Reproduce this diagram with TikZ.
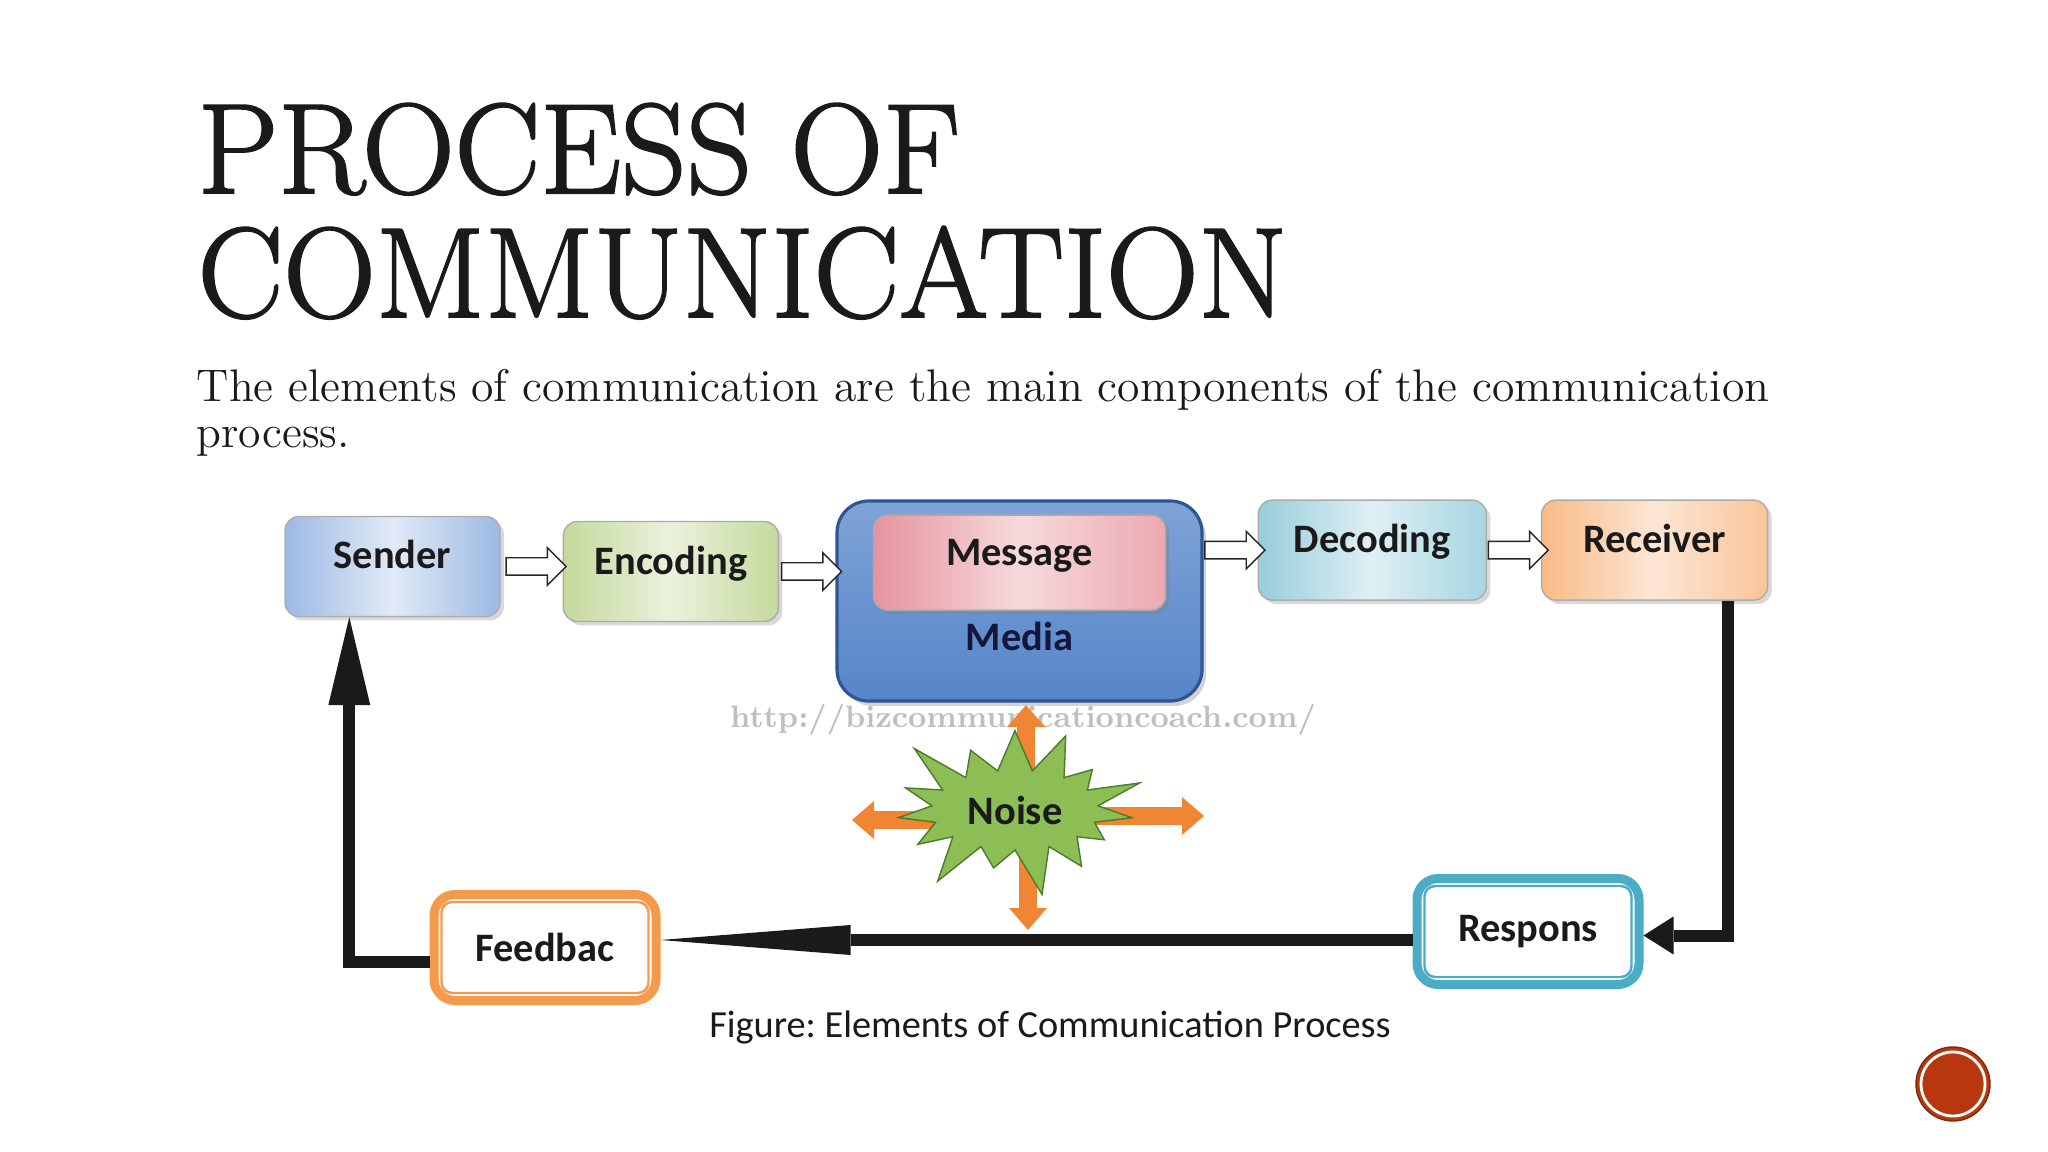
\documentclass[tikz,border=0pt]{standalone}
\usepackage{fontspec}
\newfontfamily\carlito{Carlito}
\newfontfamily\titlefont{Latin Modern Roman}[FakeBold=1.6]
\frenchspacing
\usetikzlibrary{positioning,shapes.arrows,shapes.symbols,arrows.meta,shadows,calc}
\definecolor{ink}        {HTML}{1A1A1A}
\definecolor{sndblue}    {HTML}{9DB9E3}
\definecolor{encgreen}   {HTML}{C5D99C}
\definecolor{msgpink}    {HTML}{E6939D}
\definecolor{medblue}    {HTML}{5585C9}
\definecolor{medline}    {HTML}{2F5597}
\definecolor{decteal}    {HTML}{96CDDB}
\definecolor{rcvpeach}   {HTML}{F8BA86}
\definecolor{rspteal}    {HTML}{4BACC6}
\definecolor{fbkorange}  {HTML}{F39A4C}
\definecolor{noisegreen} {HTML}{8DBD55}
\definecolor{noiseline}  {HTML}{4E7A2A}
\definecolor{noiseorange}{HTML}{F08633}
\definecolor{pagered}    {HTML}{B9370F}
\tikzset{
  >=Stealth,
  % --- text
  title/.style = {font=\titlefont\fontsize{36.5}{36}\selectfont, text=ink, inner sep=0pt},
  sub/.style   = {font=\fontsize{13}{13}\selectfont, text=ink, inner sep=0pt},
  figcap/.style= {font=\carlito\fontsize{10.9}{11}\selectfont, text=ink, inner sep=0pt},
  wmark/.style = {font=\fontsize{8.8}{9}\selectfont\bfseries, text=gray!50, inner sep=0pt},
  % --- nodes
  box/.style   = {rounded corners=4pt, draw=gray!65, shade, align=center,
                  minimum width=2.15cm, minimum height=1cm, text height=0.3cm, text depth=0.25cm,
                  font=\carlito\fontsize{11.5}{12}\selectfont\bfseries, text=ink,
                  drop shadow={shadow xshift=0.04cm, shadow yshift=-0.04cm, opacity=0.3}},
  sndbox/.style = {box, left color=sndblue, right color=sndblue, middle color=sndblue!30},
  encbox/.style = {box, left color=encgreen, right color=encgreen, middle color=encgreen!35},
  msgbox/.style = {box, left color=msgpink, right color=msgpink!80, middle color=msgpink!35,
                   minimum width=2.92cm, minimum height=0.95cm},
  medbox/.style = {rounded corners=9pt, draw=medline, line width=0.9pt, top color=medblue!75,
                   bottom color=medblue, minimum width=3.65cm, minimum height=2cm,
                   drop shadow={shadow xshift=0.04cm, shadow yshift=-0.05cm, opacity=0.35}},
  decbox/.style = {box, left color=decteal, right color=decteal!85, middle color=decteal!30,
                   minimum width=2.28cm},
  rcvbox/.style = {box, left color=rcvpeach, right color=rcvpeach!85, middle color=rcvpeach!35,
                   minimum width=2.26cm},
  dbox/.style   = {rounded corners=6pt, line width=0.09cm, fill=white, minimum width=2.22cm,
                   minimum height=1.06cm, font=\carlito\fontsize{11.5}{12}\selectfont\bfseries,
                   text=ink},
  noise/.style  = {starburst, starburst points=15, starburst point height=0.55cm,
                   fill=noisegreen, draw=noiseline, minimum width=2.35cm, minimum height=1.9cm,
                   font=\carlito\fontsize{11.5}{12}\selectfont\bfseries, text=ink},
  hollow/.style = {single arrow, draw=gray!30!black, fill=white, inner sep=0.08cm,
                   minimum height=0.6cm, single arrow head extend=0.1cm, sloped},
  % --- edges
  fb/.style     = {draw=ink, line width=0.12cm},
  narrow/.style = {draw=noiseorange, line width=0.18cm,
                   -{Triangle[length=0.22cm,width=0.38cm,line width=0pt]}},
}
\begin{document}
\begin{tikzpicture}
  \useasboundingbox[fill=white] (0,0) rectangle (20.48,-11.52);
  % title and text
  \node[title, anchor=base west] (ttl1) at (1.97,-1.93) {PROCESS OF};
  \node[title, anchor=base west] (ttl2) at (1.97,-3.17) {COMMUNICATION};
  \node[sub, anchor=base west] (sub1) at (1.96,-4.02)
    {The elements of communication are the main components of the communication};
  \node[sub, anchor=base west] (sub2) at (1.96,-4.48) {process.};
  % top row
  \node[sndbox] (snd) at (3.925,-5.665) {Sender};
  \node[encbox, right=0.62cm of snd, yshift=-0.05cm] (enc) {Encoding};
  \node[medbox] (med) at (10.195,-6.01) {};
  \node[msgbox, below=0.15cm of med.north] (msg) {Message};
  \node[font=\carlito\fontsize{11.5}{12}\selectfont\bfseries, text=ink!85!blue]
    (medtxt) at ([yshift=0.66cm]med.south) {Media};
  \node[decbox, right=0.54cm of med.north east, anchor=north west] (dec) {Decoding};
  \node[rcvbox, right=0.54cm of dec] (rcv) {Receiver};
  \path (snd.east) -- node[hollow] {} (snd.east -| enc.west);
  \path (enc.east) -- node[hollow] {} (enc.east -| med.west);
  \path (dec.west -| med.east) -- node[hollow] {} (dec.west);
  \path (dec.east) -- node[hollow] {} (dec.east -| rcv.west);
  % bottom row
  \node[dbox, draw=rspteal] (rsp) at (15.28,-9.315) {Respons};
  \node[dbox, draw=fbkorange] (fbk) at (5.45,-9.475) {Feedbac};
  \draw[rspteal, line width=0.7pt, rounded corners=3pt]
    ([shift={(0.12,-0.12)}]rsp.north west) rectangle ([shift={(-0.12,0.12)}]rsp.south east);
  \draw[fbkorange, line width=0.7pt, rounded corners=3pt]
    ([shift={(0.12,-0.12)}]fbk.north west) rectangle ([shift={(-0.12,0.12)}]fbk.south east);
  % feedback loop
  \draw[fb, -{Triangle[length=0.3cm,width=0.38cm,line width=0pt]}]
    ([xshift=-0.4cm]rcv.south east) |- ([yshift=-0.04cm]rsp.east);
  \draw[fb, -{Triangle[length=1.9cm,width=0.3cm,line width=0pt]}]
    ([yshift=-0.085cm]rsp.west) -- ([yshift=-0.085cm]rsp.west -| fbk.east);
  \draw[fb, -{Triangle[length=0.88cm,width=0.42cm,line width=0pt]}]
    ([yshift=-0.14cm]fbk.west) -| ([xshift=0.65cm]snd.south west);
  % noise
  \node[wmark] (url) at (10.23,-7.20) {http://bizcommunicationcoach.com/};
  \coordinate (nup) at (10.26,-7.05);
  \coordinate (ndn) at (10.28,-9.30);
  \coordinate (nlf) at (8.52,-8.20);
  \coordinate (nrt) at (12.04,-8.16);
  \coordinate (nmid) at (10.2,-8.15);
  \draw[narrow] (nmid -| nup) -- (nup);
  \draw[narrow] (nmid -| ndn) -- (ndn);
  \draw[narrow] (nmid |- nlf) -- (nlf);
  \draw[narrow] (nmid |- nrt) -- (nrt);
  \node[noise] (noise) at (10.15,-8.10) {Noise};
  % caption
  \node[figcap] (capt) at (10.5,-10.27) {Figure: Elements of Communication Process};
  % page mark
  \node[circle, fill=pagered, draw=pagered!70!black, minimum size=0.74cm] (pg) at (19.53,-10.84) {};
  \draw[white, line width=0.8pt] (pg.center) circle (0.32cm);
\end{tikzpicture}
\end{document}
